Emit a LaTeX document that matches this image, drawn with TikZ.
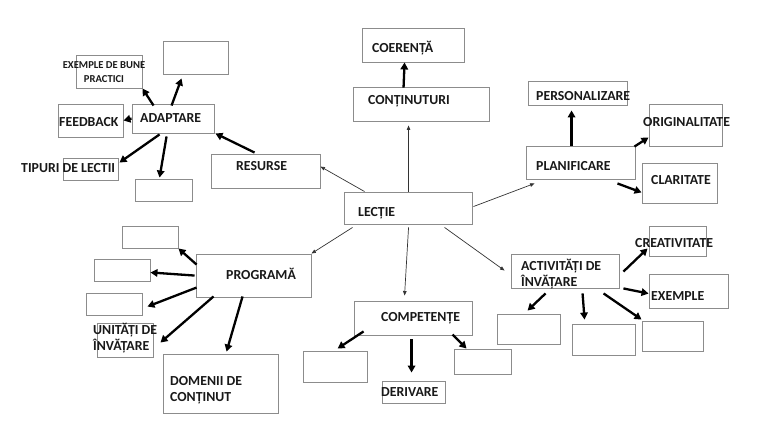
\documentclass[tikz,border=0pt]{standalone}
\usepackage{fontspec}
\setmainfont{Carlito}
\usetikzlibrary{arrows.meta,calc}
\begin{document}
\begin{tikzpicture}[x=1pt,y=-1pt,
  box/.style={draw=black!45,line width=0.9pt,inner sep=0pt,fill=white},
  lbl/.style={anchor=west,inner sep=0pt,font=\fontsize{13.8}{15}\selectfont\bfseries,text=black!90},
  small/.style={anchor=center,inner sep=0pt,align=center,font=\fontsize{10.6}{14}\selectfont\bfseries,text=black!90},
  two/.style={anchor=west,inner sep=0pt,align=left,font=\fontsize{13.8}{16}\selectfont\bfseries,text=black!90},
  thk/.style={line width=2.3pt,-{Triangle[length=7pt,width=7.5pt]}},
  thn/.style={line width=0.7pt,black!80,-{Triangle[length=4.5pt,width=3.5pt]}}]
\useasboundingbox (0,0) rectangle (768,433);
% boxes
\node[box,minimum width=66pt,minimum height=33pt] (exbp) at (109,71.5) {};
\node[box,minimum width=65pt,minimum height=33pt] (adtop) at (195.5,57.5) {};
\node[box,minimum width=82pt,minimum height=29pt] (adapt) at (173,118.5) {};
\node[box,minimum width=65pt,minimum height=33pt] (feedback) at (90.5,120.5) {};
\node[box,minimum width=55pt,minimum height=22pt] (tipuri) at (90.5,169) {};
\node[box,minimum width=57pt,minimum height=22pt] (adbot) at (163.5,190) {};
\node[box,minimum width=109pt,minimum height=34pt] (resurse) at (265.5,171) {};
\node[box,minimum width=102pt,minimum height=34pt] (coerenta) at (413,45) {};
\node[box,minimum width=136pt,minimum height=34pt] (continut) at (421,104) {};
\node[box,minimum width=128pt,minimum height=32pt] (lectie) at (408,208) {};
\node[box,minimum width=99pt,minimum height=24pt] (personal) at (577.5,93) {};
\node[box,minimum width=73pt,minimum height=42pt] (orig) at (685.5,125) {};
\node[box,minimum width=109pt,minimum height=33pt] (planif) at (580.5,162.5) {};
\node[box,minimum width=75pt,minimum height=40pt] (clar) at (679.5,183) {};
\node[box,minimum width=56pt,minimum height=22pt] (pr1) at (150,237) {};
\node[box,minimum width=56pt,minimum height=22pt] (pr2) at (122,270) {};
\node[box,minimum width=56pt,minimum height=22pt] (pr3) at (114,304) {};
\node[box,minimum width=56pt,minimum height=34pt] (unitati) at (125,340) {};
\node[box,minimum width=115pt,minimum height=43pt] (programa) at (253.5,275.5) {};
\node[box,minimum width=115pt,minimum height=59pt] (domenii) at (220.5,383.5) {};
\node[box,minimum width=118pt,minimum height=34pt] (comp) at (413,318) {};
\node[box,minimum width=64pt,minimum height=31pt] (cpleft) at (335,366.5) {};
\node[box,minimum width=63pt,minimum height=22pt] (deriv) at (413.5,392) {};
\node[box,minimum width=57pt,minimum height=25pt] (cpright) at (482.5,361.5) {};
\node[box,minimum width=108pt,minimum height=34pt] (activ) at (565,271) {};
\node[box,minimum width=57pt,minimum height=30pt] (creat) at (677.5,241) {};
\node[box,minimum width=79pt,minimum height=34pt] (exemple) at (688.5,291) {};
\node[box,minimum width=63pt,minimum height=30pt] (acbl) at (528.5,329) {};
\node[box,minimum width=63pt,minimum height=31pt] (acmid) at (603.5,339.5) {};
\node[box,minimum width=61pt,minimum height=30pt] (acright) at (672.5,336) {};
% labels
\node[small] (exbp-t) at (104,72) {EXEMPLE DE BUNE\\PRACTICI};
\node[lbl] (adapt-t) at (140,118) {ADAPTARE};
\node[lbl] (feedback-t) at (59,122) {FEEDBACK};
\node[lbl] (tipuri-t) at (21,168) {TIPURI DE LECTII};
\node[lbl] (resurse-t) at (236,166) {RESURSE};
\node[lbl] (coerenta-t) at (372,48) {COERENȚĂ};
\node[lbl] (continut-t) at (368,101) {CONȚINUTURI};
\node[lbl] (lectie-t) at (358,213) {LECȚIE};
\node[lbl] (personal-t) at (536,96) {PERSONALIZARE};
\node[lbl] (orig-t) at (643,122) {ORIGINALITATE};
\node[lbl] (planif-t) at (536,166) {PLANIFICARE};
\node[lbl] (clar-t) at (651,180) {CLARITATE};
\node[two] (unitati-t) at (93,338) {UNITĂȚI DE\\ÎNVĂȚARE};
\node[lbl] (programa-t) at (226,274) {PROGRAMĂ};
\node[two] (domenii-t) at (170,390) {DOMENII DE\\CONȚINUT};
\node[lbl] (comp-t) at (381,318) {COMPETENȚE};
\node[lbl] (deriv-t) at (381,392) {DERIVARE};
\node[two] (activ-t) at (521,274) {ACTIVITĂȚI DE\\ÎNVĂȚARE};
\node[lbl] (creat-t) at (635,243) {CREATIVITATE};
\node[lbl] (exemple-t) at (651,296) {EXEMPLE};
% thick arrows
\draw[thk] ($(adapt.north west)+(22,2)$) -- (exbp.south east);
\draw[thk] ($(adapt.north west)+(40,2)$) -- ($(adtop.south west)+(19,4)$);
\draw[thk] (adapt.west) -- (feedback.east);
\draw[thk] ($(adapt.south west)+(28,1)$) -- ($(tipuri.north east)+(1,5)$);
\draw[thk] ($(adapt.south west)+(35,3)$) -- ($(adbot.north west)+(25,-1)$);
\draw[thk] ($(resurse.north west)+(44,-1)$) -- ($(adapt.south east)+(1,0)$);
\draw[thk] ($(continut.north west)+(51,1)$) -- ($(coerenta.south west)+(43,0)$);
\draw[thk] ($(planif.north west)+(46,0)$) -- ($(personal.south west)+(44,5)$);
\draw[thk] ($(planif.north east)+(-1,1)$) -- ($(orig.south west)+(0,-9)$);
\draw[thk] ($(planif.south east)+(-18,4)$) -- ($(clar.south west)+(0,-11)$);
\draw[thk] ($(programa.north west)+(1,11)$) -- (pr1.south east);
\draw[thk] ($(programa.north west)+(-1,22)$) -- ($(pr2.south east)+(0,-9)$);
\draw[thk] ($(programa.north west)+(1,34)$) -- ($(pr3.north east)+(5,14)$);
\draw[thk] ($(programa.south west)+(18,-1)$) -- ($(unitati.north east)+(7,20)$);
\draw[thk] ($(programa.south west)+(47,-1)$) -- ($(domenii.north west)+(64,-2)$);
\draw[thk] ($(comp.south west)+(10,-4)$) -- ($(cpleft.north west)+(35,-2)$);
\draw[thk] ($(comp.south west)+(58,4)$) -- ($(deriv.north west)+(30,-8)$);
\draw[thk] ($(comp.south west)+(99,-1)$) -- ($(cpright.north west)+(13,0)$);
\draw[thk] ($(activ.north east)+(4,18)$) -- ($(creat.south west)+(-1,-8)$);
\draw[thk] ($(activ.south east)+(4,0)$) -- ($(exemple.north west)+(0,20)$);
\draw[thk] ($(activ.south west)+(35,5)$) -- ($(acbl.north west)+(31,-3)$);
\draw[thk] ($(activ.south west)+(72,5)$) -- ($(acmid.north west)+(13,-4)$);
\draw[thk] ($(activ.south west)+(93,5)$) -- ($(acright.north west)+(0,-1)$);
% thin arrows
\draw[thn] ($(lectie.north west)+(65,0)$) -- ($(continut.south west)+(56,4)$);
\draw[thn] ($(lectie.north west)+(21,0)$) -- ($(resurse.north east)+(0,13)$);
\draw[thn] ($(lectie.north east)+(1,15)$) -- ($(planif.south west)+(9,4)$);
\draw[thn] ($(lectie.south west)+(9,3)$) -- (programa.north east);
\draw[thn] ($(lectie.south west)+(65,3)$) -- ($(comp.north west)+(51,-5)$);
\draw[thn] ($(lectie.south west)+(101,3)$) -- ($(activ.north west)+(-6,17)$);
\end{tikzpicture}
\end{document}
